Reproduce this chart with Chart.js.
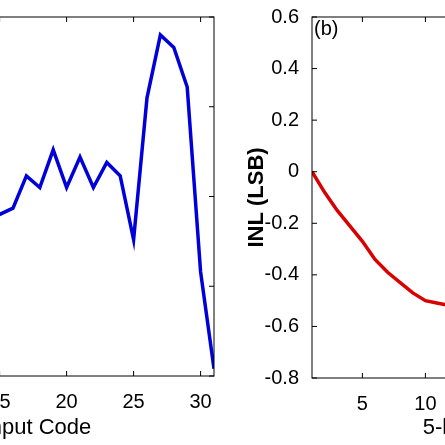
<!DOCTYPE html>
<html><head><meta charset="utf-8">
<script src="https://cdn.jsdelivr.net/npm/chart.js@4"></script>
<style>html,body{margin:0;padding:0;width:445px;height:445px;overflow:hidden;background:#fff;position:relative}
.w{position:absolute;top:0;height:445px}</style></head><body>
<div class="w" style="left:-250px;width:475px"><canvas id="a"></canvas></div>
<div class="w" style="left:240px;width:460px"><canvas id="b"></canvas></div>
<script>
const codes=[1,2,3,4,5,6,7,8,9,10,11,12,13,14,15,16,17,18,19,20,21,22,23,24,25,26,27,28,29,30,31];
const dnlA=[0,0.05,-0.1,0.08,-0.05,0.1,-0.02,0.06,-0.08,0.04,-0.03,0.07,-0.06,-0.06,-0.1,-0.065,0.115,0.05,0.26,0.05,0.22,0.05,0.19,0.115,-0.24,0.55,0.90,0.83,0.61,-0.42,-0.96];
const inlB=[0,-0.08,-0.15,-0.21,-0.27,-0.34,-0.39,-0.43,-0.47,-0.5,-0.51,-0.52,-0.5,-0.46,-0.4,-0.33,-0.25,-0.17,-0.1,-0.05,-0.02,0,0.03,0.05,0.06,0.08,0.1,0.08,0.06,0.03,0];
const yTicksA=[-1,-0.5,0,0.5,1];
const yTicksB=[-0.8,-0.6,-0.4,-0.2,0,0.2,0.4,0.6];
const xTicks=[5,10,15,20,25,30];
const F='"Liberation Sans", Arial, sans-serif';
const frame={id:'frame',afterDraw(c){const {ctx,chartArea:a,scales:s}=c;ctx.save();ctx.strokeStyle='#000';ctx.lineWidth=1;
ctx.strokeRect(a.left,a.top,a.right-a.left,a.bottom-a.top);
s.x.ticks.forEach(t=>{const p=s.x.getPixelForValue(t.value);ctx.beginPath();ctx.moveTo(p,a.bottom);ctx.lineTo(p,a.bottom-5);ctx.moveTo(p,a.top);ctx.lineTo(p,a.top+5);ctx.stroke();});
s.y.ticks.forEach(t=>{const p=s.y.getPixelForValue(t.value);ctx.beginPath();ctx.moveTo(a.left,p);ctx.lineTo(a.left+5,p);ctx.moveTo(a.right,p);ctx.lineTo(a.right-5,p);ctx.stroke();});
if(c.options.plugins.tag){ctx.fillStyle='#000';ctx.font='20px '+F;ctx.textBaseline='top';ctx.fillText(c.options.plugins.tag,a.left+2,a.top+2);}
ctx.restore();}};
function mk(id,data,color,yt,ymin,ymax,yw,xh,padR,showYTitle,tag){
new Chart(document.getElementById(id),{type:'line',data:{labels:codes,datasets:[{data:data.map((v,i)=>({x:codes[i],y:v})),borderColor:color,borderWidth:3.5,pointRadius:0,tension:0,fill:false}]},
options:{responsive:true,maintainAspectRatio:false,animation:false,layout:{padding:{top:0,right:padR,left:0,bottom:0}},
plugins:{legend:{display:false},tooltip:{enabled:false},tag:tag},
scales:{x:{type:'linear',min:1,max:31,afterBuildTicks:s=>{s.ticks=xTicks.map(v=>({value:v}))},grid:{display:false},border:{display:false},
ticks:{color:'#000',font:{size:20,family:F},maxRotation:0,padding:6},title:{display:true,text:'5-bit Input Code',color:'#000',font:{size:22,family:F},padding:{top:2}},afterFit:s=>{s.height=xh}},
y:{min:ymin,max:ymax,afterBuildTicks:s=>{s.ticks=yt.map(v=>({value:v}))},grid:{display:false},border:{display:false},
ticks:{color:'#000',font:{size:20,family:F},padding:5},title:{display:showYTitle,text:'INL (LSB)',color:'#000',font:{size:22,weight:'bold',family:F},padding:{bottom:0}},afterFit:s=>{s.width=yw}}}},
plugins:[frame]});}
mk('a',dnlA,'#0000d8',yTicksA,-1,1,62,69,11,false,null);
mk('b',inlB,'#d80000',yTicksB,-0.8,0.6,72,67,10,true,'(b)');
</script></body></html>
